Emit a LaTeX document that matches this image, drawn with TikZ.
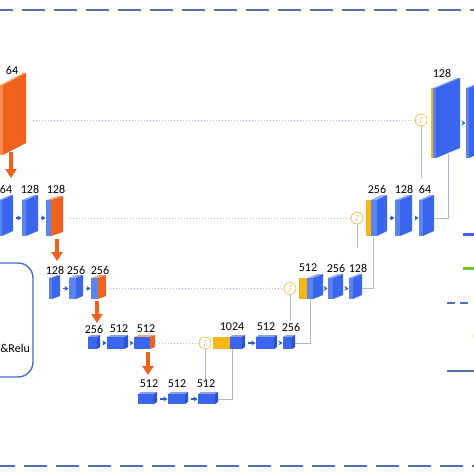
\documentclass[tikz,border=0pt]{standalone}
\usepackage{fontspec}
\setmainfont{Carlito}
\usetikzlibrary{arrows.meta}

\definecolor{blueS}{RGB}{58,102,238}
\definecolor{blueF}{RGB}{92,132,236}
\definecolor{blueD}{RGB}{44,82,205}
\definecolor{uorange}{RGB}{240,98,28}
\definecolor{uorangeL}{RGB}{246,140,82}
\definecolor{cyellow}{RGB}{245,182,24}
\definecolor{catyellow}{RGB}{242,196,80}
\definecolor{dashblue}{RGB}{85,112,180}
\definecolor{skipgrey}{RGB}{172,186,224}
\definecolor{linkgrey}{RGB}{170,182,215}
\definecolor{arrowblue}{RGB}{50,90,205}
\definecolor{boxblue}{RGB}{72,108,200}
\definecolor{legreen}{RGB}{110,200,40}

% block: name, x, y, width, height, depth x, depth y, front colour, side colour
\newcommand{\blk}[9]{%
  \fill[#9!55!white] (#2,#3) -- ++(#6,-#7) -- ++(#4,0) -- ++(-#6,#7) -- cycle;
  \fill[#9] (#2+#4,#3) -- ++(#6,-#7) -- ++(0,#5) -- ++(-#6,#7) -- cycle;
  \fill[#8] (#2,#3) rectangle ++(#4,#5);
  \coordinate (#1-w) at (#2,#3+#5/2);
  \coordinate (#1-e) at (#2+#4+#6,#3+#5/2);
}

\begin{document}
\begin{tikzpicture}
	[x=1pt, y=-1pt,
	 lbl/.style={font=\fontsize{12}{14}\selectfont, inner sep=0pt},
	 fwd/.style={-{Stealth[length=4pt,width=5pt]}, draw=arrowblue, line width=1.4pt, shorten <=2.5pt, shorten >=0.5pt},
	 down/.style={-{Triangle[length=9pt,width=11pt]}, draw=uorange, line width=4pt},
	 skip/.style={draw=skipgrey, line width=1pt, dotted, shorten <=4pt},
	 link/.style={draw=linkgrey, line width=0.9pt},
	 cat/.style={circle, draw=catyellow, fill=white, line width=0.8pt, minimum size=12pt, inner sep=0pt,
	   path picture={\draw[catyellow, line width=0.6pt]
	     ([shift={(1.6pt,3pt)}]path picture bounding box.center) to[out=180,in=0]
	     ([shift={(-1.6pt,-3pt)}]path picture bounding box.center);}},
	 border/.style={draw=dashblue, line width=2.5pt, dash pattern=on 23pt off 9pt}]

	\path [use as bounding box] (0,0) rectangle (474,474);

	% frame
	\draw[border, dash phase=10pt] (0,10) -- (474,10);
	\draw[border, dash phase=8pt] (0,466) -- (474,466);

	% legend box on the left
	\draw[boxblue, line width=1.4pt, rounded corners=15pt] (-6,263) -- (33,263) -- (33,377) -- (-6,377);
	\node[lbl, anchor=east] (l-box) at (30,348) {\&Relu};

	% encoder
	\blk{e1}{0}{85}{3}{70}{23}{12}{uorangeL}{uorange}
	\blk{e2a}{-1}{200}{3}{36}{11}{5}{blueF}{blueS}
	\blk{e2b}{22}{200}{4}{36}{12}{5}{blueF}{blueS}
	\blk{e2c}{46}{200}{5}{36}{12}{4}{blueF}{uorange}
	\blk{e3a}{49}{278}{3}{21}{8}{3}{blueF}{blueS}
	\blk{e3b}{69}{278}{7}{21}{7}{3}{blueF}{blueS}
	\blk{e3c}{91}{278}{7}{21}{8}{3}{blueF}{uorange}
	\blk{e4a}{88}{337}{9}{12}{3}{2}{blueS}{blueD}
	\blk{e4b}{107}{337}{17}{12}{4}{2}{blueS}{blueD}
	\blk{e4c}{134}{337}{16}{12}{5}{2}{blueS}{uorange}
	\blk{e5a}{138}{394}{16}{10}{3}{2}{blueS}{blueD}
	\blk{e5b}{168}{394}{17}{10}{3}{2}{blueS}{blueD}
	\blk{e5c}{198}{394}{17}{10}{3}{2}{blueS}{blueD}

	% decoder
	\blk{d4o}{213}{337}{17}{12}{0}{0}{cyellow}{cyellow}
	\blk{d4a}{230}{337}{12}{12}{3}{2}{blueS}{blueD}
	\blk{d4b}{256}{337}{18}{12}{3}{2}{blueS}{blueD}
	\blk{d4c}{283}{337}{9}{12}{3}{2}{blueS}{blueD}
	\blk{d3o}{299}{278}{8}{21}{0}{0}{cyellow}{cyellow}
	\blk{d3a}{307}{278}{6}{21}{10}{4}{blueF}{blueS}
	\blk{d3b}{328}{278}{5}{21}{10}{4}{blueF}{blueS}
	\blk{d3c}{349}{278}{4}{21}{9}{4}{blueF}{blueS}
	\blk{d2o}{366}{200}{6}{36}{0}{0}{cyellow}{cyellow}
	\blk{d2a}{371}{200}{6}{36}{10}{5}{blueF}{blueS}
	\blk{d2b}{395}{200}{5}{36}{12}{5}{blueF}{blueS}
	\blk{d2c}{419}{200}{4}{36}{11}{5}{blueF}{blueS}
	\blk{d1o}{430.5}{88}{2.5}{70}{0}{0}{cyellow}{cyellow}
	\blk{d1a}{433}{88}{3}{70}{24}{10}{blueF}{blueS}
	\blk{d1b}{466}{88}{3}{70}{24}{10}{blueF}{blueS}

	% labels
	\node[lbl] (l-e1)  at (12,70)  {64};
	\node[lbl] (l-e2a) at (6,189)  {64};
	\node[lbl] (l-e2b) at (30,189) {128};
	\node[lbl] (l-e2c) at (56,189) {128};
	\node[lbl] (l-e3a) at (55,270) {128};
	\node[lbl] (l-e3b) at (76,270) {256};
	\node[lbl] (l-e3c) at (100,270) {256};
	\node[lbl] (l-e4a) at (94,329) {256};
	\node[lbl] (l-e4b) at (119,329) {512};
	\node[lbl] (l-e4c) at (146,329) {512};
	\node[lbl] (l-e5a) at (149,384) {512};
	\node[lbl] (l-e5b) at (177,384) {512};
	\node[lbl] (l-e5c) at (206,384) {512};
	\node[lbl] (l-d4a) at (232,327) {1024};
	\node[lbl] (l-d4b) at (266,327) {512};
	\node[lbl] (l-d4c) at (291,327) {256};
	\node[lbl] (l-d3a) at (308,268) {512};
	\node[lbl] (l-d3b) at (336,268) {256};
	\node[lbl] (l-d3c) at (358,268) {128};
	\node[lbl] (l-d2a) at (377,189) {256};
	\node[lbl] (l-d2b) at (404,189) {128};
	\node[lbl] (l-d2c) at (425,189) {64};
	\node[lbl] (l-d1a) at (442,73)  {128};

	% forward steps
	\draw[fwd] (e2a-e) -- (e2b-w);
	\draw[fwd] (e2b-e) -- (e2c-w);
	\draw[fwd] (e3a-e) -- (e3b-w);
	\draw[fwd] (e3b-e) -- (e3c-w);
	\draw[fwd] (e4a-e) -- (e4b-w);
	\draw[fwd] (e4b-e) -- (e4c-w);
	\draw[fwd] (e5a-e) -- (e5b-w);
	\draw[fwd] (e5b-e) -- (e5c-w);
	\draw[fwd] (d4a-e) -- (d4b-w);
	\draw[fwd] (d4b-e) -- (d4c-w);
	\draw[fwd] (d3a-e) -- (d3b-w);
	\draw[fwd] (d3b-e) -- (d3c-w);
	\draw[fwd] (d2a-e) -- (d2b-w);
	\draw[fwd] (d2b-e) -- (d2c-w);
	\draw[fwd] (d1a-e) -- (d1b-w);

	% pooling
	\coordinate (p1a) at (11,152);  \coordinate (p1b) at (11,178);
	\coordinate (p2a) at (57,239);  \coordinate (p2b) at (57,261);
	\coordinate (p3a) at (97,301);  \coordinate (p3b) at (97,323);
	\coordinate (p4a) at (148,352); \coordinate (p4b) at (148,375);
	\draw[down] (p1a) -- (p1b);
	\draw[down] (p2a) -- (p2b);
	\draw[down] (p3a) -- (p3b);
	\draw[down] (p4a) -- (p4b);

	% concatenation
	\node[cat] (c1) at (421,120) {};
	\node[cat] (c2) at (357,218) {};
	\node[cat] (c3) at (290,288.5) {};
	\node[cat] (c4) at (205,343) {};

	\draw[skip, shorten <=7pt] (e1-e) -- (c1);
	\draw[skip] (e2c-e) -- (c2);
	\draw[skip] (e3c-e) -- (c3);
	\draw[skip] (e4c-e) -- (c4);

	\coordinate (c1d) at (421,178);
	\coordinate (c2d) at (357,248);
	\coordinate (c3d) at (290,320);
	\coordinate (c4d) at (205,380);
	\draw[link] (c1) -- (c1d);
	\draw[link] (c2) -- (c2d);
	\draw[link] (c3) -- (c3d);
	\draw[link] (c4) -- (c4d);

	% up-sampling
	\coordinate (u1) at (448,154);
	\coordinate (u2) at (373,237);
	\coordinate (u3) at (310,299);
	\coordinate (u4) at (232,349);
	\draw[link] (d2c-e) -| (u1);
	\draw[link] (d3c-e) -| (u2);
	\draw[link] (d4c-e) -| (u3);
	\draw[link] (e5c-e) -| (u4);

	% legend on the right
	\draw[blueS, line width=3pt] (463,234) -- (480,234);
	\draw[legreen, line width=3pt] (463,268) -- (480,268);
	\draw[dashblue, line width=1.4pt, dash pattern=on 8pt off 5pt] (447,303) -- (472,303);
	\node[cat] (lc) at (480,336) {};
	\draw[dashblue, line width=1.4pt] (447,371) -- (480,371);
\end{tikzpicture}
\end{document}
